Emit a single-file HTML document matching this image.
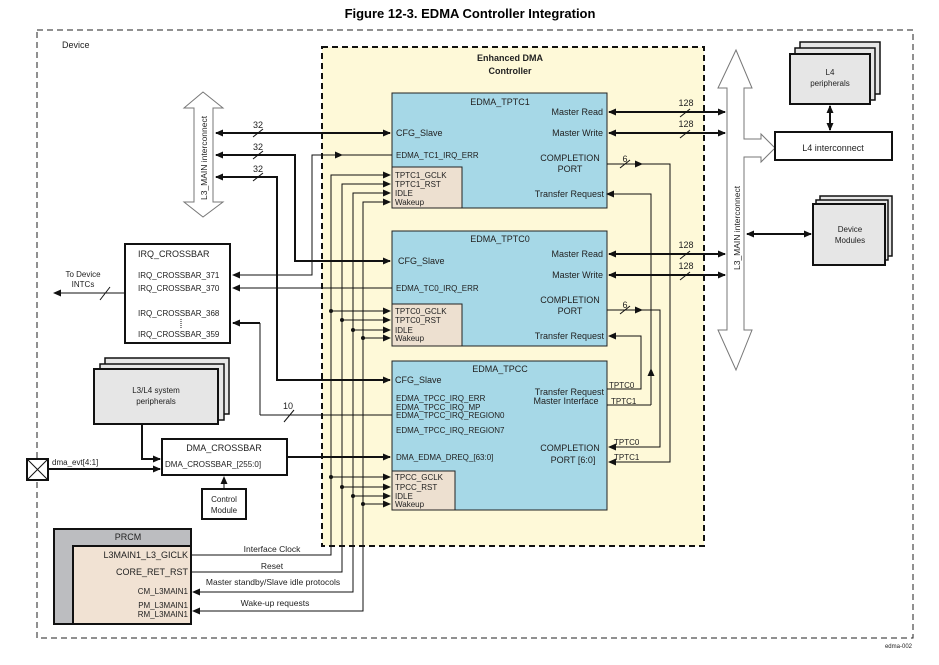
<!DOCTYPE html>
<html><head><meta charset="utf-8"><style>
body{margin:0;background:#fff}
svg{display:block;font-family:"Liberation Sans",sans-serif}
text{font-size:9px;fill:#222}
</style></head><body>
<svg width="939" height="665" viewBox="0 0 939 665" xmlns="http://www.w3.org/2000/svg">
<defs>
<marker id="a" markerWidth="8" markerHeight="8" refX="7" refY="4" orient="auto" markerUnits="userSpaceOnUse"><path d="M0,0.5 L8,4 L0,7.5Z" fill="#111"/></marker>
<marker id="s" markerWidth="8" markerHeight="8" refX="1" refY="4" orient="auto" markerUnits="userSpaceOnUse"><path d="M8,0.5 L0,4 L8,7.5Z" fill="#111"/></marker>
</defs>
<text x="470" y="18" text-anchor="middle" style="font-size:13px;font-weight:bold;fill:#000">Figure 12-3. EDMA Controller Integration</text>
<rect x="37" y="30" width="876" height="608" fill="none" stroke="#222" stroke-dasharray="6,4"/>
<text x="62" y="48">Device</text>
<rect x="322" y="47" width="382" height="499" fill="#fef9d8" stroke="#111" stroke-width="2" stroke-dasharray="6,4"/>
<text x="510" y="61" text-anchor="middle" style="font-weight:bold">Enhanced DMA</text>
<text x="510" y="74" text-anchor="middle" style="font-weight:bold">Controller</text>

<!-- TPTC1 -->
<rect x="392" y="93" width="215" height="115" fill="#a6d8e7" stroke="#222"/>
<rect x="392" y="167" width="70" height="41" fill="#ede0d0" stroke="#222"/>
<text x="500" y="105" text-anchor="middle">EDMA_TPTC1</text>
<text x="396" y="136">CFG_Slave</text>
<text x="396" y="158" style="font-size:8px">EDMA_TC1_IRQ_ERR</text>
<text x="395" y="178" style="font-size:8px">TPTC1_GCLK</text>
<text x="395" y="187" style="font-size:8px">TPTC1_RST</text>
<text x="395" y="196" style="font-size:8px">IDLE</text>
<text x="395" y="205" style="font-size:8px">Wakeup</text>
<text x="603" y="115" text-anchor="end">Master Read</text>
<text x="603" y="136" text-anchor="end">Master Write</text>
<text x="570" y="161" text-anchor="middle">COMPLETION</text>
<text x="570" y="172" text-anchor="middle">PORT</text>
<text x="604" y="197" text-anchor="end">Transfer Request</text>

<!-- TPTC0 -->
<rect x="392" y="231" width="215" height="115" fill="#a6d8e7" stroke="#222"/>
<rect x="392" y="304" width="70" height="42" fill="#ede0d0" stroke="#222"/>
<text x="500" y="242" text-anchor="middle">EDMA_TPTC0</text>
<text x="398" y="264">CFG_Slave</text>
<text x="396" y="291" style="font-size:8px">EDMA_TC0_IRQ_ERR</text>
<text x="395" y="314" style="font-size:8px">TPTC0_GCLK</text>
<text x="395" y="323" style="font-size:8px">TPTC0_RST</text>
<text x="395" y="333" style="font-size:8px">IDLE</text>
<text x="395" y="341" style="font-size:8px">Wakeup</text>
<text x="603" y="257" text-anchor="end">Master Read</text>
<text x="603" y="278" text-anchor="end">Master Write</text>
<text x="570" y="303" text-anchor="middle">COMPLETION</text>
<text x="570" y="314" text-anchor="middle">PORT</text>
<text x="604" y="339" text-anchor="end">Transfer Request</text>

<!-- TPCC -->
<rect x="392" y="361" width="215" height="149" fill="#a6d8e7" stroke="#222"/>
<rect x="392" y="471" width="63" height="39" fill="#ede0d0" stroke="#222"/>
<text x="500" y="372" text-anchor="middle">EDMA_TPCC</text>
<text x="395" y="383">CFG_Slave</text>
<text x="396" y="401" style="font-size:8px">EDMA_TPCC_IRQ_ERR</text>
<text x="396" y="410" style="font-size:8px">EDMA_TPCC_IRQ_MP</text>
<text x="396" y="418" style="font-size:8px">EDMA_TPCC_IRQ_REGION0</text>
<text x="396" y="433" style="font-size:8px">EDMA_TPCC_IRQ_REGION7</text>
<text x="396" y="460" style="font-size:8px">DMA_EDMA_DREQ_[63:0]</text>
<text x="395" y="480" style="font-size:8px">TPCC_GCLK</text>
<text x="395" y="490" style="font-size:8px">TPCC_RST</text>
<text x="395" y="499" style="font-size:8px">IDLE</text>
<text x="395" y="507" style="font-size:8px">Wakeup</text>
<text x="604" y="395" text-anchor="end">Transfer Request</text>
<text x="566" y="404" text-anchor="middle">Master Interface</text>
<text x="570" y="451" text-anchor="middle">COMPLETION</text>
<text x="573" y="463" text-anchor="middle">PORT [6:0]</text>
<text x="609" y="388" style="font-size:8px">TPTC0</text>
<text x="611" y="404" style="font-size:8px">TPTC1</text>
<text x="614" y="445" style="font-size:8px">TPTC0</text>
<text x="614" y="460" style="font-size:8px">TPTC1</text>

<!-- right buses -->
<g stroke="#111" stroke-width="2" fill="none">
<line x1="609" y1="112" x2="725" y2="112" marker-start="url(#s)" marker-end="url(#a)"/>
<line x1="609" y1="133" x2="725" y2="133" marker-start="url(#s)" marker-end="url(#a)"/>
<line x1="609" y1="254" x2="725" y2="254" marker-start="url(#s)" marker-end="url(#a)"/>
<line x1="609" y1="275" x2="725" y2="275" marker-start="url(#s)" marker-end="url(#a)"/>
<line x1="747" y1="234" x2="811" y2="234" marker-start="url(#s)" marker-end="url(#a)"/>
<line x1="830" y1="106" x2="830" y2="130" marker-start="url(#s)" marker-end="url(#a)"/>
</g>
<g stroke="#111" stroke-width="1" fill="none">
<line x1="680" y1="117" x2="690" y2="109"/><line x1="680" y1="138" x2="690" y2="130"/>
<line x1="680" y1="259" x2="690" y2="251"/><line x1="680" y1="280" x2="690" y2="272"/>
<polyline points="607,164 670,164 670,462 609,462" marker-end="url(#a)"/>
<line x1="620" y1="168" x2="630" y2="160"/>
<line x1="630" y1="164" x2="642" y2="164" marker-end="url(#a)"/>
<polyline points="607,310 660,310 660,447 609,447" marker-end="url(#a)"/>
<line x1="620" y1="314" x2="630" y2="306"/>
<line x1="630" y1="310" x2="642" y2="310" marker-end="url(#a)"/>
<polyline points="651,405 651,194 609,194"/>
<line x1="651" y1="405" x2="607" y2="405"/>
<line x1="651" y1="380" x2="651" y2="369" marker-end="url(#a)"/>
<line x1="607" y1="194" x2="616" y2="194" marker-start="url(#s)"/>
<polyline points="607,389 641,389 641,336 609,336" marker-end="url(#a)"/>
</g>
<text x="686" y="106" text-anchor="middle">128</text><text x="686" y="127" text-anchor="middle">128</text>
<text x="686" y="248" text-anchor="middle">128</text><text x="686" y="269" text-anchor="middle">128</text>
<text x="625" y="162" text-anchor="middle">6</text><text x="625" y="308" text-anchor="middle">6</text>

<!-- right L3 main bus -->
<path d="M736,50 L752,88 L744,88 L744,139 L761,139 L761,134 L775,148 L761,162 L761,157 L744,157 L744,330 L752,330 L736,370 L718,330 L727,330 L727,88 L718,88 Z" fill="#fff" stroke="#777"/>
<text transform="translate(740,270) rotate(-90)" style="font-size:8.5px">L3_MAIN interconnect</text>

<!-- L4 -->
<rect x="775" y="132" width="117" height="28" fill="#fff" stroke="#111" stroke-width="2"/>
<text x="833" y="151" text-anchor="middle">L4 interconnect</text>
<rect x="800" y="42" width="80" height="52" fill="#e6e6e6" stroke="#111" stroke-width="1.5"/>
<rect x="795" y="48" width="80" height="52" fill="#e6e6e6" stroke="#111" stroke-width="1.5"/>
<rect x="790" y="54" width="80" height="50" fill="#e6e6e6" stroke="#111" stroke-width="2"/>
<text x="830" y="75" text-anchor="middle" style="font-size:8px">L4</text>
<text x="830" y="86" text-anchor="middle" style="font-size:8px">peripherals</text>
<rect x="820" y="196" width="72" height="60" fill="#e6e6e6" stroke="#111" stroke-width="1.5"/>
<rect x="816" y="200" width="72" height="60" fill="#e6e6e6" stroke="#111" stroke-width="1.5"/>
<rect x="813" y="204" width="72" height="61" fill="#e6e6e6" stroke="#111" stroke-width="2"/>
<text x="850" y="232" text-anchor="middle" style="font-size:8px">Device</text>
<text x="850" y="243" text-anchor="middle" style="font-size:8px">Modules</text>

<!-- left L3 main -->
<path d="M203,92 L223,108 L213,108 L213,202 L223,202 L203,217 L184,202 L194,202 L194,108 L184,108 Z" fill="#fff" stroke="#777"/>
<text transform="translate(207,200) rotate(-90)" style="font-size:8.5px">L3_MAIN interconnect</text>

<g stroke="#111" stroke-width="2" fill="none">
<line x1="216" y1="133" x2="390" y2="133" marker-start="url(#s)" marker-end="url(#a)"/>
<polyline points="216,155 295,155 295,261 390,261" marker-start="url(#s)" marker-end="url(#a)"/>
<polyline points="216,177 277,177 277,380 390,380" marker-start="url(#s)" marker-end="url(#a)"/>
<polyline points="287,457 390,457" marker-end="url(#a)"/>
</g>
<g stroke="#111" stroke-width="1" fill="none">
<line x1="253" y1="137" x2="263" y2="129"/><line x1="253" y1="159" x2="263" y2="151"/><line x1="253" y1="181" x2="263" y2="173"/>
<polyline points="392,155 312,155 312,275 233,275" marker-end="url(#a)"/>
<line x1="330" y1="155" x2="342" y2="155" marker-end="url(#a)"/>
<line x1="392" y1="288" x2="233" y2="288" marker-end="url(#a)"/>
<line x1="392" y1="415" x2="260" y2="415"/>
<line x1="260" y1="415" x2="260" y2="323"/>
<line x1="260" y1="323" x2="233" y2="323" stroke-width="2" marker-end="url(#a)"/>
<line x1="284" y1="422" x2="294" y2="410"/>
<line x1="125" y1="293" x2="54" y2="293" marker-end="url(#a)"/>
<line x1="100" y1="300" x2="110" y2="287"/>
</g>
<text x="258" y="128" text-anchor="middle">32</text><text x="258" y="150" text-anchor="middle">32</text><text x="258" y="172" text-anchor="middle">32</text>
<text x="288" y="409" text-anchor="middle">10</text>

<!-- IRQ crossbar -->
<rect x="125" y="244" width="105" height="99" fill="#fff" stroke="#111" stroke-width="2"/>
<text x="138" y="257">IRQ_CROSSBAR</text>
<text x="138" y="278" style="font-size:8px">IRQ_CROSSBAR_371</text>
<text x="138" y="291" style="font-size:8px">IRQ_CROSSBAR_370</text>
<text x="138" y="316" style="font-size:8px">IRQ_CROSSBAR_368</text>
<text x="138" y="337" style="font-size:8px">IRQ_CROSSBAR_359</text>
<line x1="181" y1="319" x2="181" y2="329" stroke="#111" stroke-dasharray="1,1"/>
<text x="83" y="277" text-anchor="middle" style="font-size:8px">To Device</text>
<text x="83" y="287" text-anchor="middle" style="font-size:8px">INTCs</text>

<!-- L3/L4 sys periph -->
<rect x="105" y="358" width="124" height="56" fill="#e6e6e6" stroke="#111" stroke-width="1.5"/>
<rect x="100" y="364" width="124" height="56" fill="#e6e6e6" stroke="#111" stroke-width="1.5"/>
<rect x="94" y="369" width="124" height="55" fill="#e6e6e6" stroke="#111" stroke-width="2"/>
<text x="156" y="393" text-anchor="middle" style="font-size:8px">L3/L4 system</text>
<text x="156" y="404" text-anchor="middle" style="font-size:8px">peripherals</text>
<g stroke="#111" stroke-width="2" fill="none">
<polyline points="142,424 142,459 160,459" marker-end="url(#a)"/>
<line x1="48" y1="469" x2="160" y2="469" marker-end="url(#a)"/>
</g>
<rect x="162" y="439" width="125" height="36" fill="#fff" stroke="#111" stroke-width="2"/>
<text x="224" y="451" text-anchor="middle">DMA_CROSSBAR</text>
<text x="165" y="467" style="font-size:8px">DMA_CROSSBAR_[255:0]</text>
<rect x="27" y="459" width="21" height="21" fill="#fff" stroke="#111" stroke-width="2"/>
<path d="M28,460 L47,479 M47,460 L28,479" stroke="#111"/>
<text x="52" y="465" style="font-size:8px">dma_evt[4:1]</text>
<rect x="202" y="489" width="44" height="30" fill="#fff" stroke="#111" stroke-width="2"/>
<text x="224" y="502" text-anchor="middle" style="font-size:8px">Control</text>
<text x="224" y="513" text-anchor="middle" style="font-size:8px">Module</text>
<line x1="224" y1="489" x2="224" y2="477" stroke="#111" marker-end="url(#a)"/>

<!-- PRCM -->
<rect x="54" y="529" width="137" height="95" fill="#bcbdc0" stroke="#111" stroke-width="2"/>
<rect x="73" y="546" width="118" height="78" fill="#f1e2d3" stroke="#111" stroke-width="2"/>
<text x="128" y="540" text-anchor="middle">PRCM</text>
<text x="188" y="558" text-anchor="end">L3MAIN1_L3_GICLK</text>
<text x="188" y="575" text-anchor="end">CORE_RET_RST</text>
<text x="188" y="594" text-anchor="end" style="font-size:8px">CM_L3MAIN1</text>
<text x="188" y="608" text-anchor="end" style="font-size:8px">PM_L3MAIN1</text>
<text x="188" y="617" text-anchor="end" style="font-size:8px">RM_L3MAIN1</text>
<text x="272" y="552" text-anchor="middle" style="font-size:8.5px">Interface Clock</text>
<text x="272" y="569" text-anchor="middle" style="font-size:8.5px">Reset</text>
<text x="273" y="585" text-anchor="middle" style="font-size:8.5px">Master standby/Slave idle protocols</text>
<text x="275" y="606" text-anchor="middle" style="font-size:8.5px">Wake-up requests</text>

<g stroke="#111" stroke-width="1" fill="none">
<polyline points="191,555 331,555 331,175 390,175" marker-end="url(#a)"/>
<polyline points="191,572 342,572 342,184 390,184" marker-end="url(#a)"/>
<polyline points="193,592 353,592 353,193 390,193" marker-start="url(#s)"/>
<line x1="353" y1="193" x2="390" y2="193" marker-end="url(#a)"/>
<polyline points="193,611 363,611 363,202 390,202" marker-start="url(#s)"/>
<line x1="363" y1="202" x2="390" y2="202" marker-end="url(#a)"/>
<line x1="331" y1="311" x2="390" y2="311" marker-end="url(#a)"/>
<line x1="342" y1="320" x2="390" y2="320" marker-end="url(#a)"/>
<line x1="353" y1="330" x2="390" y2="330" marker-end="url(#a)"/>
<line x1="363" y1="338" x2="390" y2="338" marker-end="url(#a)"/>
<line x1="331" y1="477" x2="390" y2="477" marker-end="url(#a)"/>
<line x1="342" y1="487" x2="390" y2="487" marker-end="url(#a)"/>
<line x1="353" y1="496" x2="390" y2="496" marker-end="url(#a)"/>
<line x1="363" y1="504" x2="390" y2="504" marker-end="url(#a)"/>
</g>
<g fill="#111">
<circle cx="331" cy="311" r="2"/><circle cx="342" cy="320" r="2"/><circle cx="353" cy="330" r="2"/><circle cx="363" cy="338" r="2"/>
<circle cx="331" cy="477" r="2"/><circle cx="342" cy="487" r="2"/><circle cx="353" cy="496" r="2"/><circle cx="363" cy="504" r="2"/>
</g>
<text x="912" y="648" text-anchor="end" style="font-size:6px">edma-002</text>
</svg>
</body></html>
